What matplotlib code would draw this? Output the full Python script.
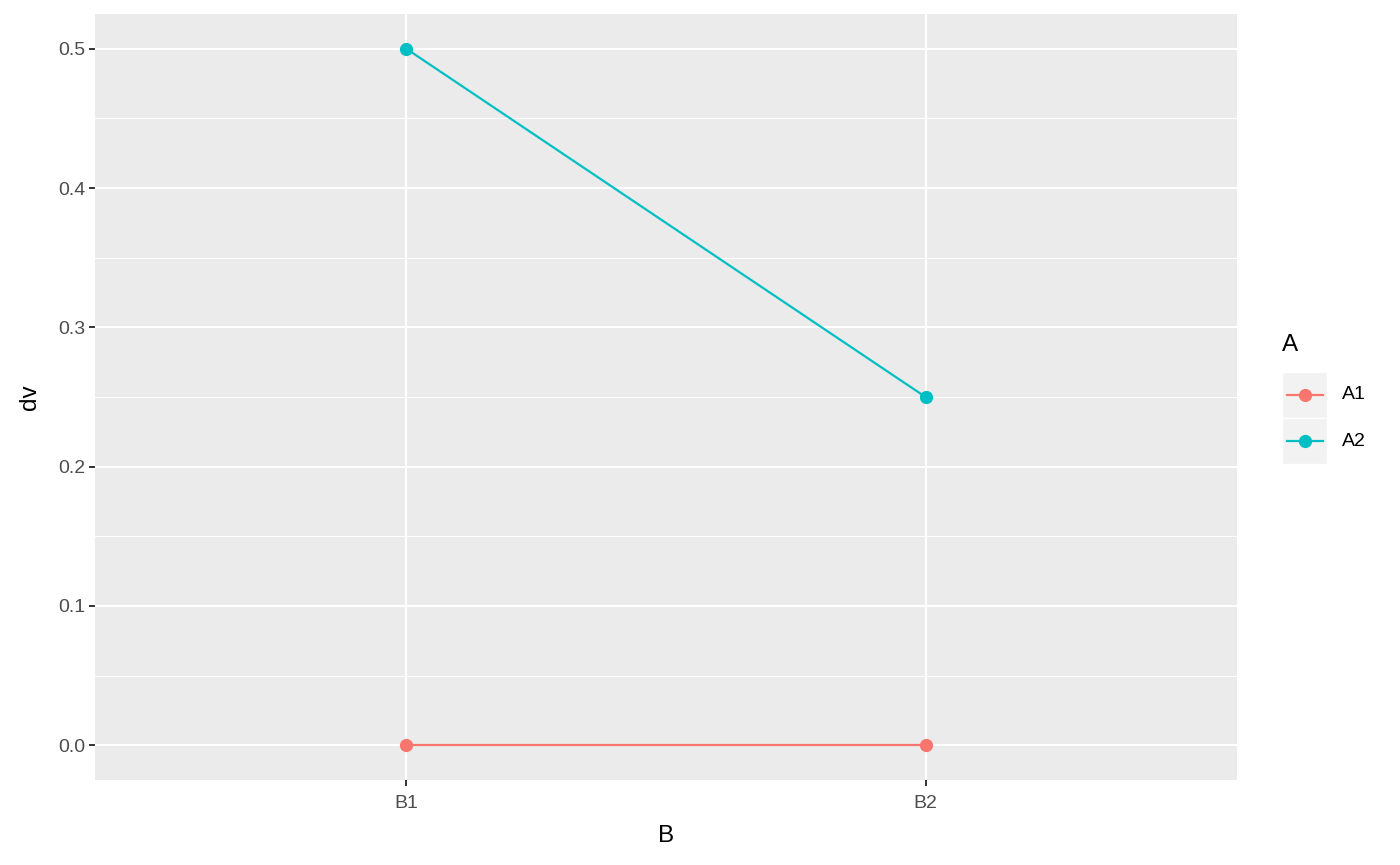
import matplotlib
matplotlib.use("Agg")
import matplotlib.pyplot as plt
from matplotlib.lines import Line2D
from matplotlib.patches import Rectangle

categories = ["B1", "B2"]
series_names = ["A1", "A2"]
a1_values = [0.0, 0.0]
a2_values = [0.5, 0.25]
y_ticks = [0.0, 0.1, 0.2, 0.3, 0.4, 0.5]
y_tick_labels = ["0.0", "0.1", "0.2", "0.3", "0.4", "0.5"]
colors = ["#F8766D", "#00BFC4"]

plt.rcParams['font.family'] = ['Liberation Sans', 'DejaVu Sans']

W, H = 1400, 865
fig = plt.figure(figsize=(14, 8.65), dpi=100)
ax = fig.add_axes([95 / W, 1 - 780 / H, (1237 - 95) / W, (780 - 14) / H])
ax.set_facecolor("#EBEBEB")
for s in ax.spines.values():
    s.set_visible(False)

xpos = list(range(1, len(categories) + 1))
for vals, c in zip([a1_values, a2_values], colors):
    ax.plot(xpos, vals, color=c, lw=1.6, marker="o", ms=8.5, zorder=3,
            solid_capstyle="butt")

ax.set_xlim(0.4, len(categories) + 0.6)
ax.set_ylim(-0.025, 0.525)
ax.set_xticks(xpos)
ax.set_xticklabels(categories)
ax.set_yticks(y_ticks)
ax.set_yticklabels(y_tick_labels)
minor = [(y_ticks[i] + y_ticks[i + 1]) / 2 for i in range(len(y_ticks) - 1)]
ax.set_yticks(minor, minor=True)
ax.grid(which="major", color="white", lw=1.5)
ax.grid(which="minor", axis="y", color="white", lw=0.75)
ax.set_axisbelow(True)
ax.tick_params(which="major", length=4, width=1.4, color="#333333",
               labelsize=14, labelcolor="#4D4D4D")
ax.tick_params(axis="x", which="major", pad=7)
ax.tick_params(axis="y", which="major", pad=3)
ax.tick_params(which="minor", length=0)
ax.set_xlabel("B", fontsize=17.5, labelpad=9)
ax.set_ylabel("dv", fontsize=17.5, labelpad=12)

# Legend
fig.text(1282 / W, 1 - 345 / H, "A", fontsize=17.5, va="center", ha="left")
lax = fig.add_axes([1282 / W, 1 - 464 / H, 45 / W, 92 / H])
lax.set_xlim(0, 1)
lax.set_ylim(0, 2)
lax.axis("off")
for i, (name, c) in enumerate(zip(series_names, colors)):
    y0 = 2 - i - 1
    lax.add_patch(Rectangle((0, y0), 1, 1, facecolor="#F2F2F2", edgecolor="white", lw=1))
    lax.add_line(Line2D([0.1, 0.9], [y0 + 0.5, y0 + 0.5], color=c, lw=1.6))
    lax.plot([0.5], [y0 + 0.5], marker="o", color=c, ms=8.5)
    fig.text(1342 / W, 1 - (372 + 23 + 46 * i) / H, name, fontsize=14,
             va="center", ha="left")

fig.savefig("out.png", dpi=100)
